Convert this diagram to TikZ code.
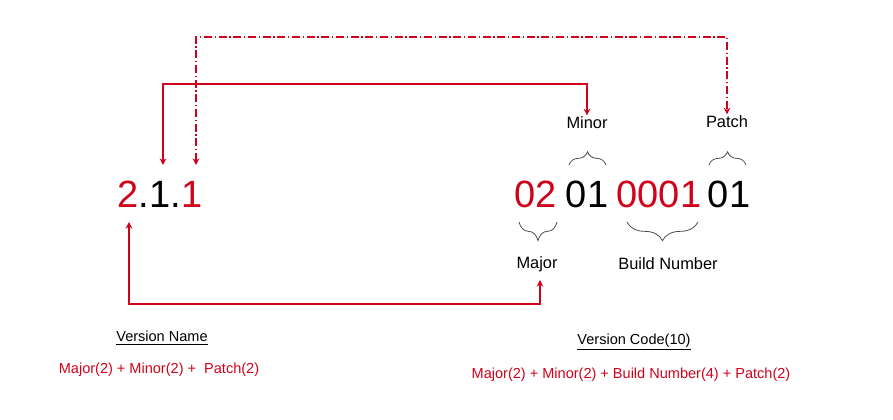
\documentclass[tikz,border=0pt]{standalone}
\usepackage{fontspec}
\setmainfont{Liberation Sans}
\usetikzlibrary{decorations.pathreplacing,arrows.meta}
\definecolor{vred}{HTML}{D0021B}
\begin{document}
\begin{tikzpicture}[x=0.75pt,y=-0.75pt,
  big/.style={inner sep=0pt,font=\fontsize{28.5}{29}\selectfont,anchor=base},
  lab/.style={inner sep=1pt,font=\fontsize{12.3}{14}\selectfont},
  small/.style={inner sep=1pt,font=\fontsize{10.9}{13}\selectfont},
  conn/.style={draw=vred,line width=0.8pt,{Stealth[length=5pt,width=5pt]}-{Stealth[length=5pt,width=5pt]}},
  brc/.style={draw=black!70,line width=0.6pt,decorate,decoration={brace,amplitude=#1}},
  brc/.default=10pt]
\useasboundingbox (0,0) rectangle (893,420);
% version name
\node[big] (vn) at (160,208) {\textcolor{vred}{2}.1.\textcolor{vred}{1}};
% version code
\node[big,text=vred] (maj) at (536,208) {02};
\node[big] (min) at (587,208) {01};
\node[big,text=vred] (bld) at (659,208) {0001};
\node[big] (pat) at (729,208) {01};
% braces
\draw[brc] (569,165) -- (606,165);
\draw[brc] (709,165) -- (746,165);
\draw[brc=14pt] (557,222) -- (519,222);
\draw[brc=14pt] (698,222) -- (627,222);
\node[lab] (lmin) at (587,123) {Minor};
\node[lab] (lpat) at (727,122) {Patch};
\node[lab] (lmaj) at (537,264) {Major};
\node[lab] (lbld) at (668,264) {Build Number};
% connectors
\coordinate (t1) at (163,165);
\coordinate (t2) at (196,165);
\coordinate (t3) at (129,222);
\coordinate (t4) at (540,280);
\draw[conn] (t1) |- (163,84) -| (lmin.north);
\draw[conn,dash pattern=on 6pt off 2pt on 1pt off 2pt] (t2) |- (196,37) -| (lpat.north);
\draw[conn] (t3) -- (129,304) -| (t4);
% captions
\node[small] (cvn) at (162,338) {\underline{Version Name}};
\node[small,text=vred] (fvn) at (159,370) {Major(2) + Minor(2) +\ \ Patch(2)};
\node[small] (cvc) at (634,342) {\underline{Version Code(10)}};
\node[small,text=vred] (fvc) at (631,375) {Major(2) + Minor(2) + Build Number(4) + Patch(2)};
\end{tikzpicture}
\end{document}
